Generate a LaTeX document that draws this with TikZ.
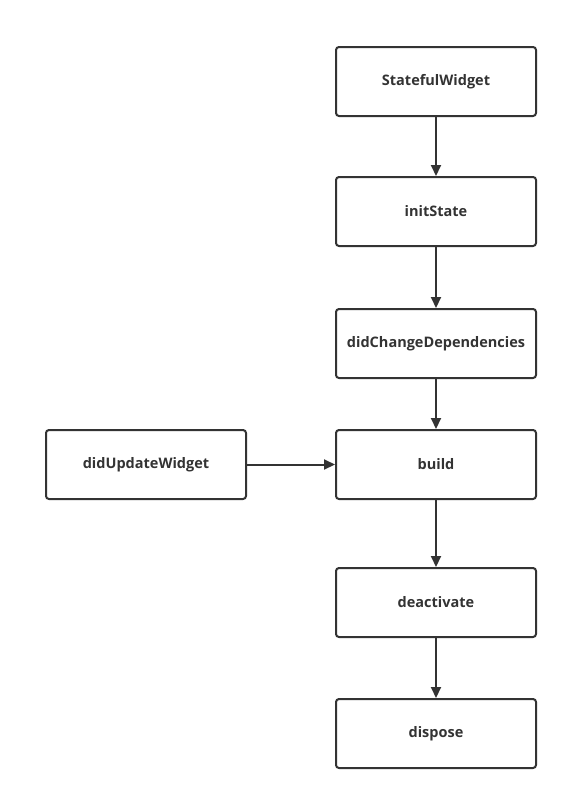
\documentclass[tikz,border=0pt]{standalone}
\usepackage{fontspec}
\setsansfont{Open Sans}
\usetikzlibrary{positioning,arrows.meta}
\definecolor{linegray}{HTML}{333333}

\begin{document}
\begin{tikzpicture}[x=1pt,y=-1pt,
  stage/.style={draw=linegray,line width=2pt,rounded corners=3pt,minimum width=200pt,minimum height=69pt,
    inner sep=0pt,font=\sffamily\bfseries\fontsize{14.5}{16}\selectfont,text=linegray},
  flow/.style={draw=linegray,line width=2pt,-{Triangle[length=11pt,width=10pt]}}]
\useasboundingbox (0,0) rectangle (587,795);
\node[stage] (sw) at (436,81.5) {StatefulWidget};
\node[stage] (init) at (436,211.5) {initState};
\node[stage] (dcd) at (436,343.5) {didChangeDependencies};
\node[stage] (build) at (436,464.5) {build};
\node[stage] (deact) at (436,602.5) {deactivate};
\node[stage] (disp) at (436,733.5) {dispose};
\node[stage] (duw) at (146,464.5) {didUpdateWidget};
\draw[flow] (sw) -- (init);
\draw[flow] (init) -- (dcd);
\draw[flow] (dcd) -- (build);
\draw[flow] (build) -- (deact);
\draw[flow] (deact) -- (disp);
\draw[flow] (duw) -- (build);
\end{tikzpicture}
\end{document}
